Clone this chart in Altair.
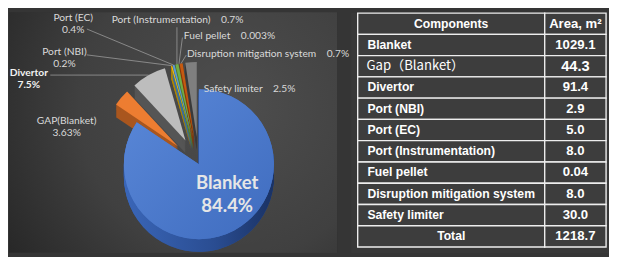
import altair as alt
import pandas as pd

# ---------------- data ----------------
COMPONENTS = ["Blanket", "GAP(Blanket)", "Divertor", "Port (NBI)", "Port (EC)",
              "Port (Instrumentation)", "Fuel pellet", "Disruption mitigation system",
              "Safety limiter"]
AREAS = [1029.1, 44.3, 91.4, 2.9, 5.0, 8.0, 0.04, 8.0, 30.0]
PERCENT_LABELS = ["84.4%", "3.63%", "7.5%", "0.2%", "0.4%", "0.7%", "0.003%", "0.7%", "2.5%"]

TABLE_HEADER = ["Components", "Area, m²"]
TABLE_NAMES = ["Blanket", "Gap（Blanket）", "Divertor", "Port (NBI)", "Port (EC)",
               "Port (Instrumentation)", "Fuel pellet", "Disruption mitigation system",
               "Safety limiter"]
TABLE_AREAS = ["1029.1", "44.3", "91.4", "2.9", "5.0", "8.0", "0.04", "8.0", "30.0"]
TABLE_TOTAL = ["Total", "1218.7"]

# ---------------- styles / layout ----------------
TOP_COLORS = ["#4472C4", "#ED7D31", "#BDBDBD", "#FFC000", "#5B9BD5", "#70AD47",
              "#264478", "#C55A11", "#7F7F7F"]
SIDE_COLORS = ["#2B4F91", "#A9561E", "#555555", "#B38700", "#3C6E9C", "#4E7A31",
               "#1A2F55", "#85380A", "#3A3A3A"]
W1, H = 337, 247
W2 = 264
CX, CY, R, EXPLODE, DEPTH = 195, 156, 77, 28, 13
LABEL_FONT = "Lato"
LABEL_COLOR = "#d9d9d9"
NBSP4 = "\u00a0\u00a0\u00a0\u00a0"

# label offsets relative to the outer tip of each slice
LABEL_LAYOUT = {
    "GAP(Blanket)": dict(dx=-56, dy=19, align="center", two=True, bold=False),
    "Divertor": dict(dx=-123, dy=-7, align="center", two=True, bold=True),
    "Port (NBI)": dict(dx=-110, dy=-19, align="center", two=True, bold=False),
    "Port (EC)": dict(dx=-103, dy=-53, align="center", two=True, bold=False),
    "Port (Instrumentation)": dict(dx=-67, dy=-50, align="left", two=False, bold=False),
    "Fuel pellet": dict(dx=5, dy=-33, align="left", two=False, bold=False),
    "Disruption mitigation system": dict(dx=6, dy=-15, align="left", two=False, bold=False),
    "Safety limiter": dict(dx=13, dy=23, align="left", two=False, bold=False),
}
LEADERS = {
    "Port (EC)": (-89, -37),
    "Port (NBI)": (-87, -11),
    "Divertor": (-101, 0),
    "Port (Instrumentation)": (0, -38),
    "Fuel pellet": (3.5, -27),
    "Disruption mitigation system": (5.3, -8.6),
}

pie_df = pd.DataFrame({
    "component": COMPONENTS,
    "area": AREAS,
    "pct": PERCENT_LABELS,
    "idx": list(range(len(COMPONENTS))),
})
pie_df["label_two"] = [f"{c}\n{p}" for c, p in zip(COMPONENTS, PERCENT_LABELS)]
pie_df["label_one"] = [f"{c}{NBSP4}{p}" for c, p in zip(COMPONENTS, PERCENT_LABELS)]

base = (
    alt.Chart(pie_df)
    .transform_joinaggregate(total="sum(area)")
    .transform_window(cum="sum(area)", sort=[alt.SortField("idx")], frame=[None, 0])
    .transform_calculate(a1="2*PI*datum.cum/datum.total")
    .transform_calculate(a0="2*PI*(datum.cum - datum.area)/datum.total")
    .transform_calculate(mid="(datum.a0 + datum.a1)/2")
    .transform_calculate(ex=f"datum.idx == 0 ? 0 : {EXPLODE}")
    .transform_calculate(cx=f"{CX} + datum.ex*sin(datum.mid)")
    .transform_calculate(cy=f"{CY} - datum.ex*cos(datum.mid)")
    .transform_calculate(tx=f"datum.cx + {R}*sin(datum.mid)")
    .transform_calculate(ty=f"datum.cy - {R}*cos(datum.mid)")
)

arc_enc = dict(
    x=alt.X("cx:Q", scale=None),
    theta=alt.Theta("a0:Q", scale=None),
    theta2="a1:Q",
)

# background panel with radial vignette
bg = alt.RadialGradient(
    gradient="radial", x1=0.68, y1=0.42, r1=0, x2=0.68, y2=0.42, r2=0.85,
    stops=[alt.GradientStop(offset=0, color="#4e4e4e"),
           alt.GradientStop(offset=0.55, color="#404040"),
           alt.GradientStop(offset=1, color="#252525")],
)
panel = alt.Chart(pd.DataFrame({"panel": [0]})).mark_rect(color=bg).encode(
    x=alt.value(0), x2=alt.value(W1), y=alt.value(0), y2=alt.value(H)
)

# side (depth) of the pie
side_base = (
    base.transform_calculate(d=f"sequence(1, {DEPTH + 1})")
    .transform_flatten(["d"])
    .transform_calculate(cyd="datum.cy + datum.d")
)
side = side_base.mark_arc(radius=R).encode(
    y=alt.Y("cyd:Q", scale=None),
    color=alt.Color("component:N", scale=alt.Scale(domain=COMPONENTS, range=SIDE_COLORS), legend=None),
    **arc_enc,
)
side_blanket = side_base.transform_filter("datum.idx == 0").mark_arc(
    radius=R,
    color=alt.LinearGradient(
        gradient="linear", x1=0, y1=0, x2=1, y2=0,
        stops=[alt.GradientStop(offset=0, color="#3a66b8"),
               alt.GradientStop(offset=0.6, color="#2a4d92"),
               alt.GradientStop(offset=1, color="#1a3264")],
    ),
).encode(y=alt.Y("cyd:Q", scale=None), **arc_enc)

top = base.mark_arc(radius=R).encode(
    y=alt.Y("cy:Q", scale=None),
    color=alt.Color("component:N", scale=alt.Scale(domain=COMPONENTS, range=TOP_COLORS), legend=None),
    **arc_enc,
)
top_blanket = base.transform_filter("datum.idx == 0").mark_arc(
    radius=R,
    color=alt.LinearGradient(
        gradient="linear", x1=0, y1=0, x2=1, y2=1,
        stops=[alt.GradientStop(offset=0, color="#5a88d8"),
               alt.GradientStop(offset=1, color="#3f6cbf")],
    ),
).encode(y=alt.Y("cy:Q", scale=None), **arc_enc)

layers = [panel, side, side_blanket, top, top_blanket]

# leader lines
for name, (ldx, ldy) in LEADERS.items():
    layers.append(
        base.transform_filter(alt.datum.component == name)
        .transform_calculate(lx=f"datum.tx + {ldx}", ly=f"datum.ty + {ldy}")
        .mark_rule(color="#a8a8a8", strokeWidth=0.7)
        .encode(x=alt.X("tx:Q", scale=None), y=alt.Y("ty:Q", scale=None),
                x2="lx:Q", y2="ly:Q")
    )

# slice labels
for name, lay in LABEL_LAYOUT.items():
    layers.append(
        base.transform_filter(alt.datum.component == name)
        .mark_text(
            dx=lay["dx"], dy=lay["dy"], align=lay["align"], baseline="top",
            lineBreak="\n", lineHeight=12.5, font=LABEL_FONT, fontSize=10.5,
            fontWeight="bold" if lay["bold"] else "normal",
            color="#f2f2f2" if lay["bold"] else LABEL_COLOR,
        )
        .encode(x=alt.X("tx:Q", scale=None), y=alt.Y("ty:Q", scale=None),
                text=alt.Text("label_two:N" if lay["two"] else "label_one:N"))
    )

# big Blanket label
blanket_lab = base.transform_filter("datum.idx == 0")
layers.append(
    blanket_lab.mark_text(dx=29, dy=19, font=LABEL_FONT, fontSize=19, fontWeight="bold",
                          color="#e6e6e6", align="center", baseline="middle")
    .encode(x=alt.X("cx:Q", scale=None), y=alt.Y("cy:Q", scale=None), text="component:N")
)
layers.append(
    blanket_lab.mark_text(dx=29, dy=43, font=LABEL_FONT, fontSize=19, fontWeight="bold",
                          color="#e6e6e6", align="center", baseline="middle")
    .encode(x=alt.X("cx:Q", scale=None), y=alt.Y("cy:Q", scale=None), text="pct:N")
)

left = alt.layer(*layers).resolve_scale(color="independent").properties(
    width=W1, height=H
)

# ---------------- table ----------------
rows = [TABLE_HEADER] + [[n, v] for n, v in zip(TABLE_NAMES, TABLE_AREAS)] + [TABLE_TOTAL]
tdf = pd.DataFrame({
    "row": list(range(len(rows))),
    "name": [r[0] for r in rows],
    "value": [r[1] for r in rows],
})
LAST = len(rows) - 1
GAP_ROW = 2
COL_X = [7, 199, 262]
yscale = alt.Scale(range=[1, 241], paddingInner=0, paddingOuter=0)
ty = alt.Y("row:O", scale=yscale, axis=None)
tbase = alt.Chart(tdf)
TFONT = "Liberation Sans"
TCOL = "#ffffff"

cells1 = tbase.mark_rect(fill="#3d3d3d", stroke="#eeeeee", strokeWidth=1.4).encode(
    y=ty, x=alt.value(COL_X[0]), x2=alt.value(COL_X[1]))
cells2 = tbase.mark_rect(fill="#3d3d3d", stroke="#eeeeee", strokeWidth=1.4).encode(
    y=ty, x=alt.value(COL_X[1]), x2=alt.value(COL_X[2]))

head_txt = tbase.transform_filter(f"datum.row == 0 || datum.row == {LAST}").mark_text(
    font=TFONT, fontSize=12.5, fontWeight="bold", color=TCOL, align="center", baseline="middle"
).encode(y=ty, x=alt.value((COL_X[0] + COL_X[1]) / 2), text="name:N")
body_txt = tbase.transform_filter(
    f"datum.row > 0 && datum.row < {LAST} && datum.row != {GAP_ROW}"
).mark_text(
    font=TFONT, fontSize=12.5, fontWeight="bold", color=TCOL, align="left", baseline="middle"
).encode(y=ty, x=alt.value(COL_X[0] + 10), text="name:N")
gap_txt = tbase.transform_filter(f"datum.row == {GAP_ROW}").mark_text(
    font="Noto Sans CJK JP", fontSize=13.5, color=TCOL, align="left", baseline="middle"
).encode(y=ty, x=alt.value(COL_X[0] + 9), text="name:N")
val_txt = tbase.transform_filter(f"datum.row != {GAP_ROW}").mark_text(
    font=TFONT, fontSize=13.5, fontWeight="bold", color=TCOL, align="center", baseline="middle"
).encode(y=ty, x=alt.value((COL_X[1] + COL_X[2]) / 2), text="value:N")
gapval_txt = tbase.transform_filter(f"datum.row == {GAP_ROW}").mark_text(
    font=TFONT, fontSize=15, fontWeight="bold", color=TCOL, align="center", baseline="middle"
).encode(y=ty, x=alt.value((COL_X[1] + COL_X[2]) / 2), text="value:N")

table = alt.layer(cells1, cells2, head_txt, body_txt, gap_txt, val_txt, gapval_txt).properties(
    width=W2, height=H, view=alt.ViewBackground(fill="#383838", stroke="transparent")
)

chart = (
    alt.hconcat(left, table, spacing=0)
    .properties(padding=0, background="#353535")
    .configure_view(stroke="transparent")
)

chart.save("out.html", embed_options={"renderer": "svg", "actions": False})
